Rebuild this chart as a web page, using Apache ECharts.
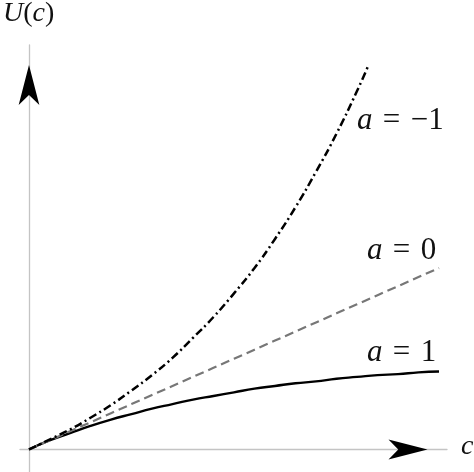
<!DOCTYPE html>
<html>
<head>
<meta charset="utf-8">
<script src="https://cdn.jsdelivr.net/npm/echarts@6/dist/echarts.min.js"></script>
<style>
html,body{margin:0;padding:0;background:#fff;}
#chart{width:474px;height:472px;}
</style>
</head>
<body>
<div id="chart"></div>
<script>
// consumption values c (x axis)
const cValues = [0, 0.1, 0.2, 0.3, 0.4, 0.5, 0.6, 0.7, 0.8, 0.9, 1.0, 1.1, 1.2, 1.3, 1.4, 1.5, 1.6, 1.7, 1.8, 1.9, 2.0];
// U(c) for a = 1 (concave, solid)
const uA1 = [0, 0.10, 0.18, 0.26, 0.33, 0.39, 0.45, 0.50, 0.55, 0.59, 0.63, 0.67, 0.70, 0.73, 0.75, 0.78, 0.80, 0.82, 0.83, 0.85, 0.86];
// U(c) for a = 0 (straight, dashed)
const uA0 = [0, 0.10, 0.20, 0.30, 0.40, 0.50, 0.60, 0.70, 0.80, 0.90, 1.00, 1.10, 1.20, 1.30, 1.40, 1.50, 1.60, 1.70, 1.80, 1.90, 2.00];
// U(c) for a = -1 (convex, dash-dot), drawn up to c ≈ 1.655
const cValuesNeg = [0, 0.1, 0.2, 0.3, 0.4, 0.5, 0.6, 0.7, 0.8, 0.9, 1.0, 1.1, 1.2, 1.3, 1.4, 1.5, 1.6, 1.655];
const uAm1 = [0, 0.11, 0.22, 0.35, 0.49, 0.65, 0.82, 1.01, 1.23, 1.46, 1.72, 2.00, 2.32, 2.67, 3.06, 3.48, 3.95, 4.23];
// curve labels: [text piece, italic?]
const labelAm1 = [['a', true], ['\u2004=\u2004\u22121', false]];
const labelA0 = [['a', true], ['\u2004=\u20040', false]];
const labelA1 = [['a', true], ['\u2004=\u20041', false]];
const xName = [['c', true]];
const yName = [['U', true], ['(', false], ['c', true], [')', false]];

const pairs = (xs, ys) => xs.map((x, i) => [x, ys[i]]);

const X_MIN = -0.0439, X_MAX = 2.039, Y_MIN = -0.248, Y_MAX = 4.457;

function plainAxis(extra) {
  return Object.assign({
    type: 'value',
    axisTick: {show: false},
    axisLabel: {show: false},
    splitLine: {show: false}
  }, extra);
}

const measureCtx = document.createElement('canvas').getContext('2d');
// builds a row of text pieces (italic / upright) starting at x, vertically centred on y
function mathLabel(parts, x, y, size) {
  const out = [];
  let cx = x;
  parts.forEach(function (p) {
    out.push({type: 'text', x: cx, y: y, style: {
      text: p[0], fontFamily: 'Liberation Serif', fontSize: size,
      fontStyle: p[1] ? 'italic' : 'normal', fill: '#111', verticalAlign: 'middle'}});
    measureCtx.font = (p[1] ? 'italic ' : '') + size + 'px "Liberation Serif"';
    cx += measureCtx.measureText(p[0]).width;
  });
  return out;
}

const chart = echarts.init(document.getElementById('chart'));
chart.setOption({
  animation: false,
  backgroundColor: '#fff',
  grid: {left: 20, right: 27, top: 45, bottom: 0, containLabel: false},
  xAxis: [
    plainAxis({min: X_MIN, max: X_MAX, position: 'bottom',
      axisLine: {show: true, onZero: true, onZeroAxisIndex: 0, lineStyle: {color: '#c4c4c4', width: 1.3}}}),
    plainAxis({min: X_MIN, max: X_MAX, position: 'bottom',
      axisLine: {show: true, onZero: true, onZeroAxisIndex: 0, symbol: ['none', 'arrow'],
        symbolSize: [15, 39], symbolOffset: [0, -19.5],
        lineStyle: {color: '#000', width: 1, opacity: 0}}})
  ],
  yAxis: [
    plainAxis({min: Y_MIN, max: Y_MAX, position: 'left',
      axisLine: {show: true, onZero: true, onZeroAxisIndex: 0, lineStyle: {color: '#c4c4c4', width: 1.3}}}),
    plainAxis({min: Y_MIN, max: Y_MAX, position: 'left',
      axisLine: {show: true, onZero: true, onZeroAxisIndex: 0, symbol: ['none', 'arrow'],
        symbolSize: [15.5, 40], symbolOffset: [0, -20],
        lineStyle: {color: '#000', width: 1, opacity: 0}}})
  ],
  series: [
    {type: 'line', name: 'a = 1', xAxisIndex: 0, yAxisIndex: 0, data: pairs(cValues, uA1),
      smooth: true, showSymbol: false, lineStyle: {color: '#000', width: 2.4, type: 'solid'}},
    {type: 'line', name: 'a = 0', xAxisIndex: 0, yAxisIndex: 0, data: pairs(cValues, uA0),
      smooth: false, showSymbol: false, lineStyle: {color: '#777', width: 2.2, type: [9, 5]}},
    {type: 'line', name: 'a = -1', xAxisIndex: 0, yAxisIndex: 0, data: pairs(cValuesNeg, uAm1),
      smooth: true, showSymbol: false, lineStyle: {color: '#000', width: 2.5, type: [8, 3.5, 2, 3.5]}}
  ],
  graphic: [].concat(
    mathLabel(labelAm1, 357, 121, 31),
    mathLabel(labelA0, 367, 251, 31),
    mathLabel(labelA1, 367, 353, 31),
    mathLabel(yName, 3, 14, 28),
    mathLabel(xName, 461, 447, 28)
  )
});
</script>
</body>
</html>
